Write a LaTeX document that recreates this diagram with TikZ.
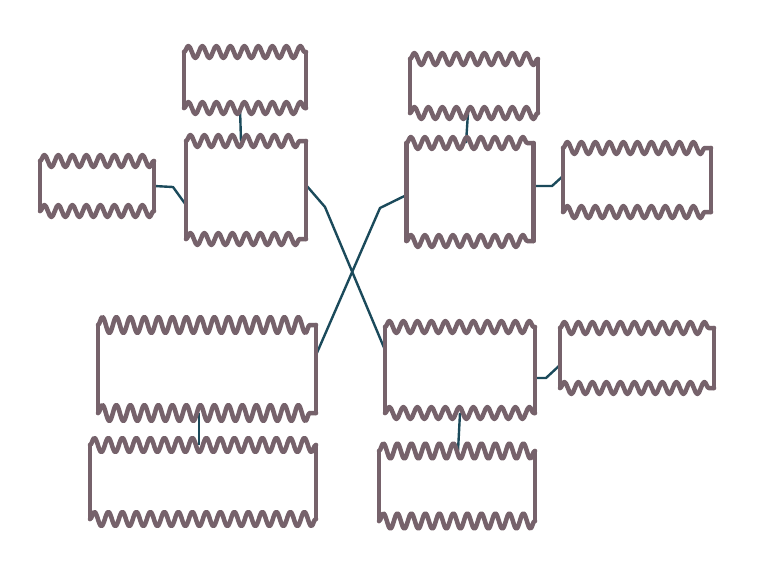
\documentclass[tikz,border=0pt]{standalone}
\usetikzlibrary{decorations.pathmorphing,calc}
\definecolor{boxc}{HTML}{76626B}
\definecolor{linkc}{HTML}{1B4A5B}
\tikzset{
  area/.style={draw=none, inner sep=0pt, outer sep=0pt},
  edge/.style={draw=boxc, line width=4.5pt, line cap=round, line join=round},
  wave/.style={edge, decorate, decoration={snake, amplitude=#1, segment length=14pt}},
  wave/.default=6pt,
  link/.style={draw=linkc, line width=2.4pt, line join=round},
}
\newcommand\wavybox[2][6pt]{%
  \draw[wave=#1] (#2.north west) -- (#2.north east);
  \draw[wave=#1] (#2.south west) -- (#2.south east);
  \draw[edge] (#2.north west) -- (#2.south west);
  \draw[edge] (#2.north east) -- (#2.south east);
}
\begin{document}
\begin{tikzpicture}[x=1pt,y=-1pt]
\useasboundingbox (0,0) rectangle (768,576);
\fill[white] (0,0) rectangle (768,576);
\node[area, minimum width=122pt, minimum height=56pt] (tltop) at (245,80) {};
\node[area, minimum width=120pt, minimum height=98pt] (tlmain) at (246,190) {};
\node[area, minimum width=114pt, minimum height=50pt] (left) at (97,186) {};
\node[area, minimum width=128pt, minimum height=54pt] (trtop) at (474,86) {};
\node[area, minimum width=127pt, minimum height=98pt] (trmain) at (470,192) {};
\node[area, minimum width=148pt, minimum height=64pt] (right) at (637,180) {};
\node[area, minimum width=218pt, minimum height=88pt] (blbig) at (207,369) {};
\node[area, minimum width=226pt, minimum height=74pt] (blbot) at (203,482) {};
\node[area, minimum width=150pt, minimum height=86pt] (brmain) at (460,370) {};
\node[area, minimum width=154pt, minimum height=60pt] (brright) at (637,358) {};
\node[area, minimum width=156pt, minimum height=70pt] (brbot) at (457,486) {};

\draw[link] ($(tltop.south)+(-5,0)$) -- ($(tlmain.north)+(-5,0)$);
\draw[link] (left.east) -- (173,187) -- ($(tlmain.west)+(0,15)$);
\draw[link] ($(tlmain.east)+(0,-5)$) -- (325,207) -- ($(brmain.west)+(0,-20)$);
\draw[link] ($(trmain.west)+(0,3)$) -- (380,208) -- ($(blbig.east)+(0,-14)$);
\draw[link] ($(trtop.south)+(-6,0)$) -- ($(trmain.north)+(-4,0)$);
\draw[link] ($(trmain.east)+(0,-6)$) -- (552,186) -- ($(right.west)+(0,-4)$);
\draw[link] ($(brmain.east)+(0,8)$) -- (546,378) -- ($(brright.west)+(0,7)$);
\draw[link] (brmain.south) -- ($(brbot.north)+(1,0)$);
\draw[link] ($(blbig.south)+(-8,0)$) -- ($(blbot.north)+(-4,0)$);

\wavybox{tltop}
\wavybox{tlmain}
\wavybox{left}
\wavybox{trtop}
\wavybox{trmain}
\wavybox{right}
\wavybox[8pt]{blbig}
\wavybox[7pt]{blbot}
\wavybox{brmain}
\wavybox{brright}
\wavybox[7.5pt]{brbot}
\end{tikzpicture}
\end{document}
